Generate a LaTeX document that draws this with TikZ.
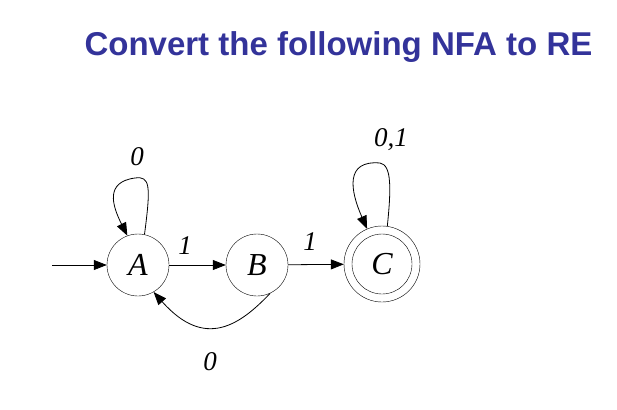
\documentclass[tikz,border=0pt]{standalone}
\usepackage{fontspec}
\setmainfont{Liberation Serif}
\newfontfamily\titlefont{Liberation Sans}
\usetikzlibrary{arrows.meta}
\definecolor{titleblue}{HTML}{33339A}
\begin{document}
\begin{tikzpicture}[x=1pt,y=-1pt,
  st/.style={draw,circle,minimum size=62pt,inner sep=0pt,font=\fontsize{32}{32}\selectfont\itshape},
  lbl/.style={font=\fontsize{27}{27}\selectfont\itshape},
  edge/.style={draw,thick,-{Triangle[length=13pt,width=10pt]}}]
\useasboundingbox (0,0) rectangle (617,409);
\node[font=\titlefont\bfseries\fontsize{33}{33}\selectfont,text=titleblue,anchor=west] (title) at (81,47) {Convert the following NFA to RE};
\node[st] (A) at (138,265) {A};
\node[st] (B) at (257,265) {B};
\node[st,minimum size=60pt] (C) at (382,264) {C};
\node[draw,circle,minimum size=76pt] (Co) at (382,264) {};
\coordinate (start) at (52,265);
\draw[edge] (start) -- (A);
\draw[edge] (A) -- (B);
\draw[edge] (B) -- (Co);
\draw[edge] (A.78) .. controls (151,185) and (150,176) .. (135,178) .. controls (105,182) and (112,205) .. (A.110);
\draw[edge] (Co.82) .. controls (391,190) and (392,165) .. (380,163) .. controls (345,160) and (350,190) .. (Co.113);
\draw[edge] (B.-65) .. controls (240,325) and (205,350) .. (A.-60);
\node[lbl] (l1) at (137,157) {0};
\node[lbl] (l2) at (185,246) {1};
\node[lbl] (l3) at (310,242) {1};
\node[lbl] (l4) at (210,362) {0};
\node[lbl] (l5) at (391,140) {0,1};
\end{tikzpicture}
\end{document}
